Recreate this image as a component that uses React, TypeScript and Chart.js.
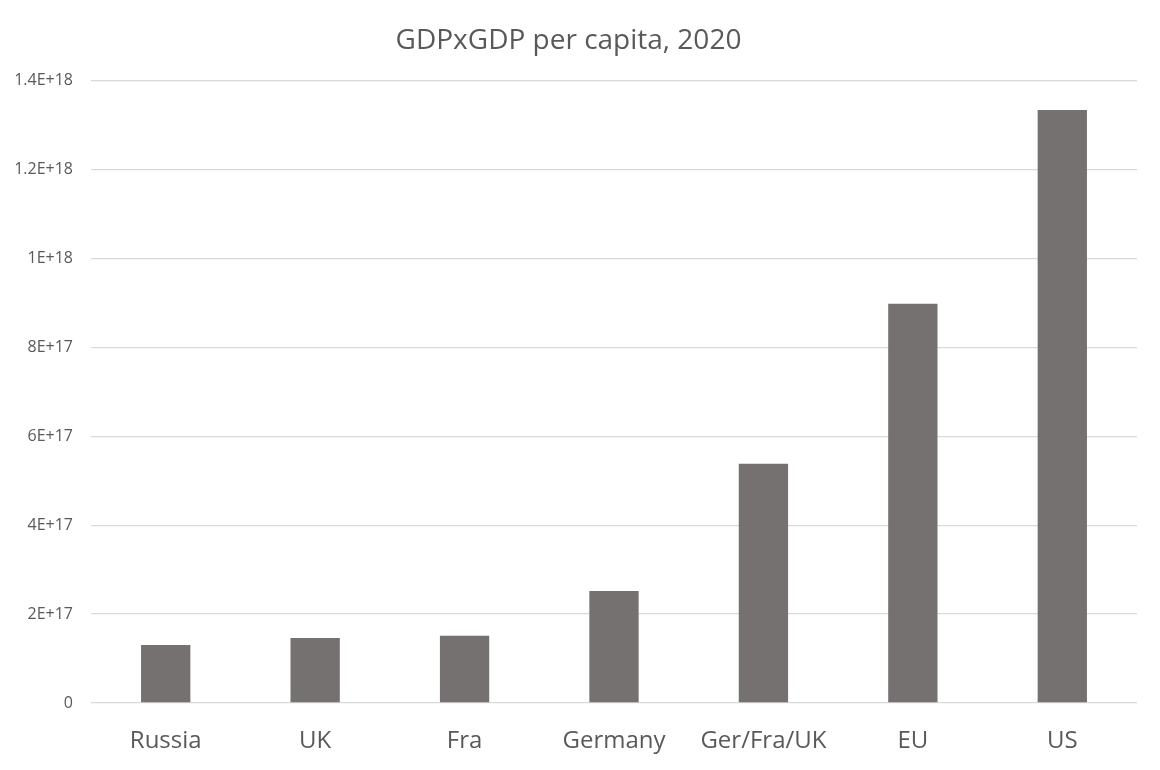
import React, { useEffect, useRef } from "react";
import { Chart, registerables } from "chart.js";

Chart.register(...registerables);

const categories = ["Russia", "UK", "Fra", "Germany", "Ger/Fra/UK", "EU", "US"];
const values = [1.305e17, 1.46e17, 1.51e17, 2.52e17, 5.38e17, 8.98e17, 1.334e18];
const tickLabels = ["0", "2E+17", "4E+17", "6E+17", "8E+17", "1E+18", "1.2E+18", "1.4E+18"];
const title = "GDPxGDP per capita, 2020";

const FONT = "'Open Sans', 'Liberation Sans', sans-serif";

export default function App() {
  const ref = useRef<HTMLCanvasElement>(null);
  useEffect(() => {
    document.body.style.margin = "0";
    const chart = new Chart(ref.current!, {
      type: "bar",
      data: {
        labels: categories,
        datasets: [
          {
            data: values,
            backgroundColor: "#767171",
            borderWidth: 0,
            categoryPercentage: 1,
            barPercentage: 0.33,
          },
        ],
      },
      options: {
        animation: false,
        responsive: false,
        devicePixelRatio: 1,
        layout: { padding: { left: 0, right: 23, top: 0, bottom: 15 } },
        plugins: {
          legend: { display: false },
          tooltip: { enabled: false },
          title: {
            display: true,
            text: title,
            color: "#595959",
            font: { family: FONT, size: 28, weight: "normal" },
            padding: { top: 24, bottom: 23 },
          },
        },
        scales: {
          x: {
            afterFit: (scale: any) => {
              scale.height = 52;
            },
            grid: { display: false, drawTicks: false },
            border: { display: false },
            ticks: {
              color: "#595959",
              font: { family: FONT, size: 24 },
              padding: 24,
              maxRotation: 0,
            },
          },
          y: {
            min: 0,
            max: 1.4e18,
            afterFit: (scale: any) => {
              scale.width = 91;
            },
            afterBuildTicks: (scale: any) => {
              scale.ticks = tickLabels.map((_, i) => ({ value: i * 2e17 }));
            },
            grid: { color: "#d9d9d9", lineWidth: 1.3, drawTicks: false },
            border: { display: false },
            ticks: {
              color: "#595959",
              font: { family: FONT, size: 16 },
              padding: 18,
              callback: (_v: any, i: number) => tickLabels[i],
            },
          },
        },
      },
    });
    return () => chart.destroy();
  }, []);
  return (
    <div style={{ position: "absolute", left: 0, top: 0, width: 1160, height: 770, background: "#fff" }}>
      <canvas ref={ref} width={1160} height={770} style={{ width: 1160, height: 770 }} />
    </div>
  );
}
